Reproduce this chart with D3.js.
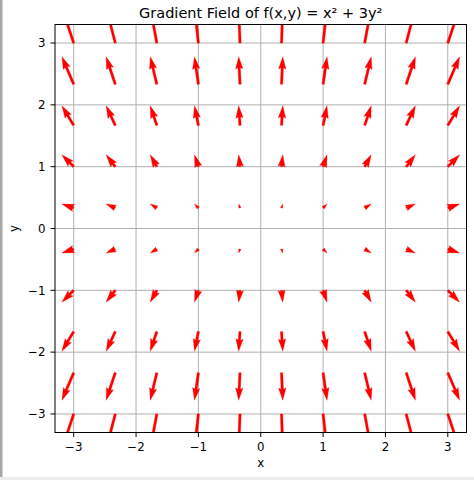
<!DOCTYPE html>
<html>
<head>
<meta charset="utf-8">
<script src="https://cdn.jsdelivr.net/npm/d3@7"></script>
<style>
  html, body { margin: 0; padding: 0; background: #fff; }
  svg { display: block; }
  text { font-family: "DejaVu Sans", sans-serif; fill: #000; }
</style>
</head>
<body>
<script>
// ---- data ----
const gridX = [-3, -2.333, -1.667, -1, -0.333, 0.333, 1, 1.667, 2.333, 3];
const gridY = [-3, -2.333, -1.667, -1, -0.333, 0.333, 1, 1.667, 2.333, 3];
// gradient components: dF/dx depends on x only, dF/dy depends on y only
const gradU = [-6, -4.667, -3.333, -2, -0.667, 0.667, 2, 3.333, 4.667, 6];
const gradV = [-18, -14, -10, -6, -2, 2, 6, 10, 14, 18];
const xTicks = [-3, -2, -1, 0, 1, 2, 3];
const yTicks = [-3, -2, -1, 0, 1, 2, 3];
const titleText = "Gradient Field of f(x,y) = x\u00B2 + 3y\u00B2";

// ---- layout ----
const W = 474, H = 480;
const m = { left: 55, right: 466.5, top: 24.5, bottom: 432.5 };
const pxPerUnit = 1.97;     // arrow length scale (px per gradient unit)
const shaftW = 2.47;        // quiver shaft width in px
const tickFont = 11.8, titleFont = 14.5;

const svg = d3.select("body").append("svg").attr("width", W).attr("height", H);
svg.append("rect").attr("width", W).attr("height", H).attr("fill", "#fff");
// screenshot frame artifacts
svg.append("rect").attr("x", 0).attr("y", 0).attr("width", 2.5).attr("height", H).attr("fill", "#a8a8a8");
svg.append("rect").attr("x", 0).attr("y", H - 3).attr("width", W).attr("height", 3).attr("fill", "#ececec");

const x = d3.scaleLinear().domain([-3.3, 3.3]).range([m.left, m.right]);
const y = d3.scaleLinear().domain([-3.3, 3.3]).range([m.bottom, m.top]);

const fmt = d => (d < 0 ? "\u2212" : "") + Math.abs(d);

// grid
const g = svg.append("g");
g.selectAll("line.gx").data(xTicks).join("line")
  .attr("x1", d => x(d)).attr("x2", d => x(d)).attr("y1", m.top).attr("y2", m.bottom)
  .attr("stroke", "#b0b0b0").attr("stroke-width", 1);
g.selectAll("line.gy").data(yTicks).join("line")
  .attr("y1", d => y(d)).attr("y2", d => y(d)).attr("x1", m.left).attr("x2", m.right)
  .attr("stroke", "#b0b0b0").attr("stroke-width", 1);

// arrows
svg.append("clipPath").attr("id", "clip").append("rect")
  .attr("x", m.left).attr("y", m.top).attr("width", m.right - m.left).attr("height", m.bottom - m.top);

const arrows = [];
gridY.forEach((yv, j) => gridX.forEach((xv, i) => arrows.push({ x: xv, y: yv, u: gradU[i], v: gradV[j] })));

function arrowPoly(a) {
  const dx = a.u * pxPerUnit, dy = -a.v * pxPerUnit;
  const Lpx = Math.hypot(dx, dy);
  const L = Lpx / shaftW; // in shaft widths
  const hl = 5, hal = 4.5, hw = 3, minsh = 5;
  let pts;
  if (L < 1) {
    pts = d3.range(7).map(k => [Math.cos(k * Math.PI / 3) * 0.5, Math.sin(k * Math.PI / 3) * 0.5]);
  } else if (L < minsh) {
    const s = L / minsh;
    pts = [[0, 0.5], [minsh - hal, 0.5], [minsh - hl, hw / 2], [minsh, 0], [minsh - hl, -hw / 2], [minsh - hal, -0.5], [0, -0.5]]
      .map(p => [p[0] * s, p[1] * s]);
  } else {
    pts = [[0, 0.5], [L - hal, 0.5], [L - hl, hw / 2], [L, 0], [L - hl, -hw / 2], [L - hal, -0.5], [0, -0.5]];
  }
  const ang = Math.atan2(dy, dx);
  const c = Math.cos(ang), s2 = Math.sin(ang);
  const tx = x(a.x), ty = y(a.y);
  return pts.map(p => [tx + (p[0] * c - p[1] * s2) * shaftW, ty + (p[0] * s2 + p[1] * c) * shaftW]);
}

svg.append("g").attr("clip-path", "url(#clip)")
  .selectAll("path").data(arrows).join("path")
  .attr("d", d => d3.line()(arrowPoly(d)) + "Z")
  .attr("fill", "#ff0000").attr("stroke", "#ff0000").attr("stroke-width", 0.3);

// spines
svg.append("rect").attr("x", m.left).attr("y", m.top).attr("width", m.right - m.left).attr("height", m.bottom - m.top)
  .attr("fill", "none").attr("stroke", "#000").attr("stroke-width", 1);

// ticks
svg.selectAll("line.tx").data(xTicks).join("line")
  .attr("x1", d => x(d)).attr("x2", d => x(d)).attr("y1", m.bottom).attr("y2", m.bottom + 4.5)
  .attr("stroke", "#000").attr("stroke-width", 1);
svg.selectAll("line.ty").data(yTicks).join("line")
  .attr("y1", d => y(d)).attr("y2", d => y(d)).attr("x1", m.left).attr("x2", m.left - 4.5)
  .attr("stroke", "#000").attr("stroke-width", 1);

svg.selectAll("text.xl").data(xTicks).join("text")
  .attr("x", d => x(d)).attr("y", 451).attr("text-anchor", "middle")
  .attr("font-size", tickFont).text(fmt);
svg.selectAll("text.yl").data(yTicks).join("text")
  .attr("x", 45.5).attr("y", d => y(d) + 4.3).attr("text-anchor", "end")
  .attr("font-size", tickFont).text(fmt);

// axis labels
svg.append("text").attr("x", (m.left + m.right) / 2).attr("y", 467).attr("text-anchor", "middle")
  .attr("font-size", tickFont).text("x");
svg.append("text").attr("transform", `translate(17.5,${(m.top + m.bottom) / 2}) rotate(-90)`)
  .attr("text-anchor", "middle").attr("font-size", tickFont).text("y");

// title
svg.append("text").attr("x", (m.left + m.right) / 2).attr("y", 18).attr("text-anchor", "middle")
  .attr("font-size", titleFont).text(titleText);
</script>
</body>
</html>
